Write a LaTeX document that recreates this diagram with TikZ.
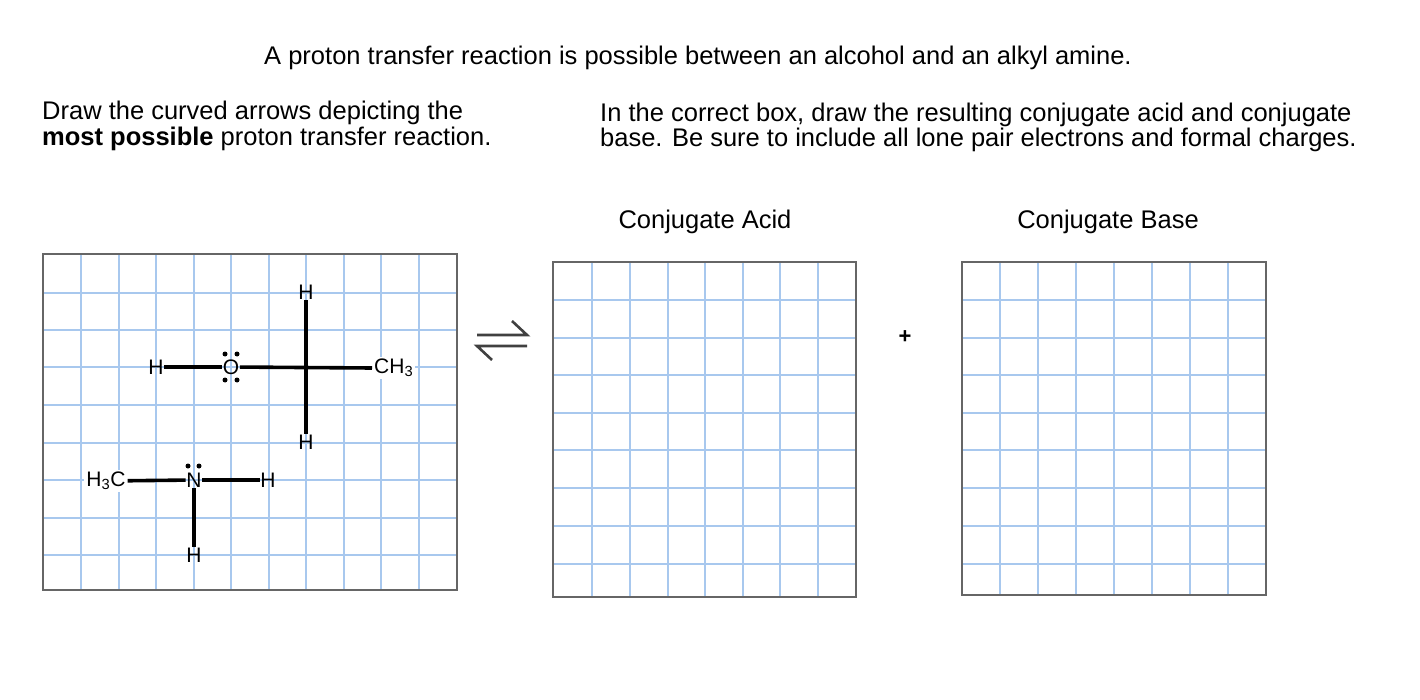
\documentclass[tikz,border=0pt]{standalone}
\usepackage{fontspec}
\setmainfont{Liberation Sans}
\definecolor{gridc}{RGB}{168,200,238}
\begin{document}
\begin{tikzpicture}[x=1pt,y=-1pt,
  gridl/.style={draw=gridc, line width=1.8pt},
  frame/.style={draw=black!60, line width=1.4pt},
  bond/.style={line width=3.6pt, black},
  atom/.style={font=\fontsize{21}{21}\selectfont, inner sep=0.5pt},
  txt/.style={font=\fontsize{25.5}{26}\selectfont, inner sep=0pt},
  lp/.style={circle, fill=black, inner sep=0pt, minimum size=5pt}]
\path[fill=white] (0,0) rectangle (1420,700);
\useasboundingbox (0,0) rectangle (1420,700);
% texts
\node[txt] (title) at (698,58) {A proton transfer reaction is possible between an alcohol and an alkyl amine.};
\node[txt, anchor=west] (l1) at (42,113) {Draw the curved arrows depicting the};
\node[txt, anchor=west] (l2) at (42,139) {\textbf{most possible} proton transfer reaction.};
\node[txt, anchor=west] (r1) at (600,115) {In the correct box, draw the resulting conjugate acid and conjugate};
\node[txt, anchor=west] (r2) at (600,140) {base. Be sure to include all lone pair electrons and formal charges.};
\node[txt] (ca) at (705,222) {Conjugate Acid};
\node[txt] (cb) at (1108,222) {Conjugate Base};
\node[font=\fontsize{22}{22}\selectfont\bfseries] (plus) at (905,337) {+};
% grids
\foreach \x in {81,119,156,194,231,269,306,344,381,419} \draw[gridl] (\x,254) -- (\x,590);
\foreach \y in {293,330,367,405,443,480,518,555} \draw[gridl] (43,\y) -- (457,\y);
\draw[frame] (43,254) rectangle (457,590);
\foreach \x in {592,630,668,705,743,780,818} \draw[gridl] (\x,262) -- (\x,597);
\foreach \y in {300,338,375,413,450,488,526,564} \draw[gridl] (553,\y) -- (856,\y);
\draw[frame] (553,262) rectangle (856,597);
\foreach \x in {1000,1038,1076,1114,1152,1190,1228} \draw[gridl] (\x,262) -- (\x,595);
\foreach \y in {300,338,375,413,450,488,526,564} \draw[gridl] (962,\y) -- (1266,\y);
\draw[frame] (962,262) rectangle (1266,595);
% equilibrium arrow
\draw[line width=2.6pt, black!75] (477,335) -- (527,335) -- (512,321);
\draw[line width=2.6pt, black!75] (527,346) -- (477,346) -- (492,360);
% alcohol
\node[atom] (h1) at (156,367) {H};
\node[atom] (o) at (231,367) {O};
\node[atom] (ht) at (306,292) {H};
\node[atom] (hb) at (306,442) {H};
\node[atom, fill=white, anchor=west, inner sep=2pt] (me) at (372,368) {CH\textsubscript{3}};
\draw[bond] (h1) -- (o);
\draw[bond] (o) -- (me.west);
\draw[bond] (ht) -- (hb);
\node[lp] (o1) at (225,354) {}; \node[lp] (o2) at (237,354) {};
\node[lp] (o3) at (225,380) {}; \node[lp] (o4) at (237,380) {};
% amine
\node[atom, fill=white, inner sep=2pt] (mc) at (106,481) {H\textsubscript{3}C};
\node[atom] (n) at (194,480) {N};
\node[atom] (hr) at (268,480) {H};
\node[atom] (hd) at (194,555) {H};
\draw[bond] (mc) -- (n);
\draw[bond] (n) -- (hr);
\draw[bond] (n) -- (hd);
\node[lp] (n1) at (188,466) {}; \node[lp] (n2) at (199,466) {};
\end{tikzpicture}
\end{document}
